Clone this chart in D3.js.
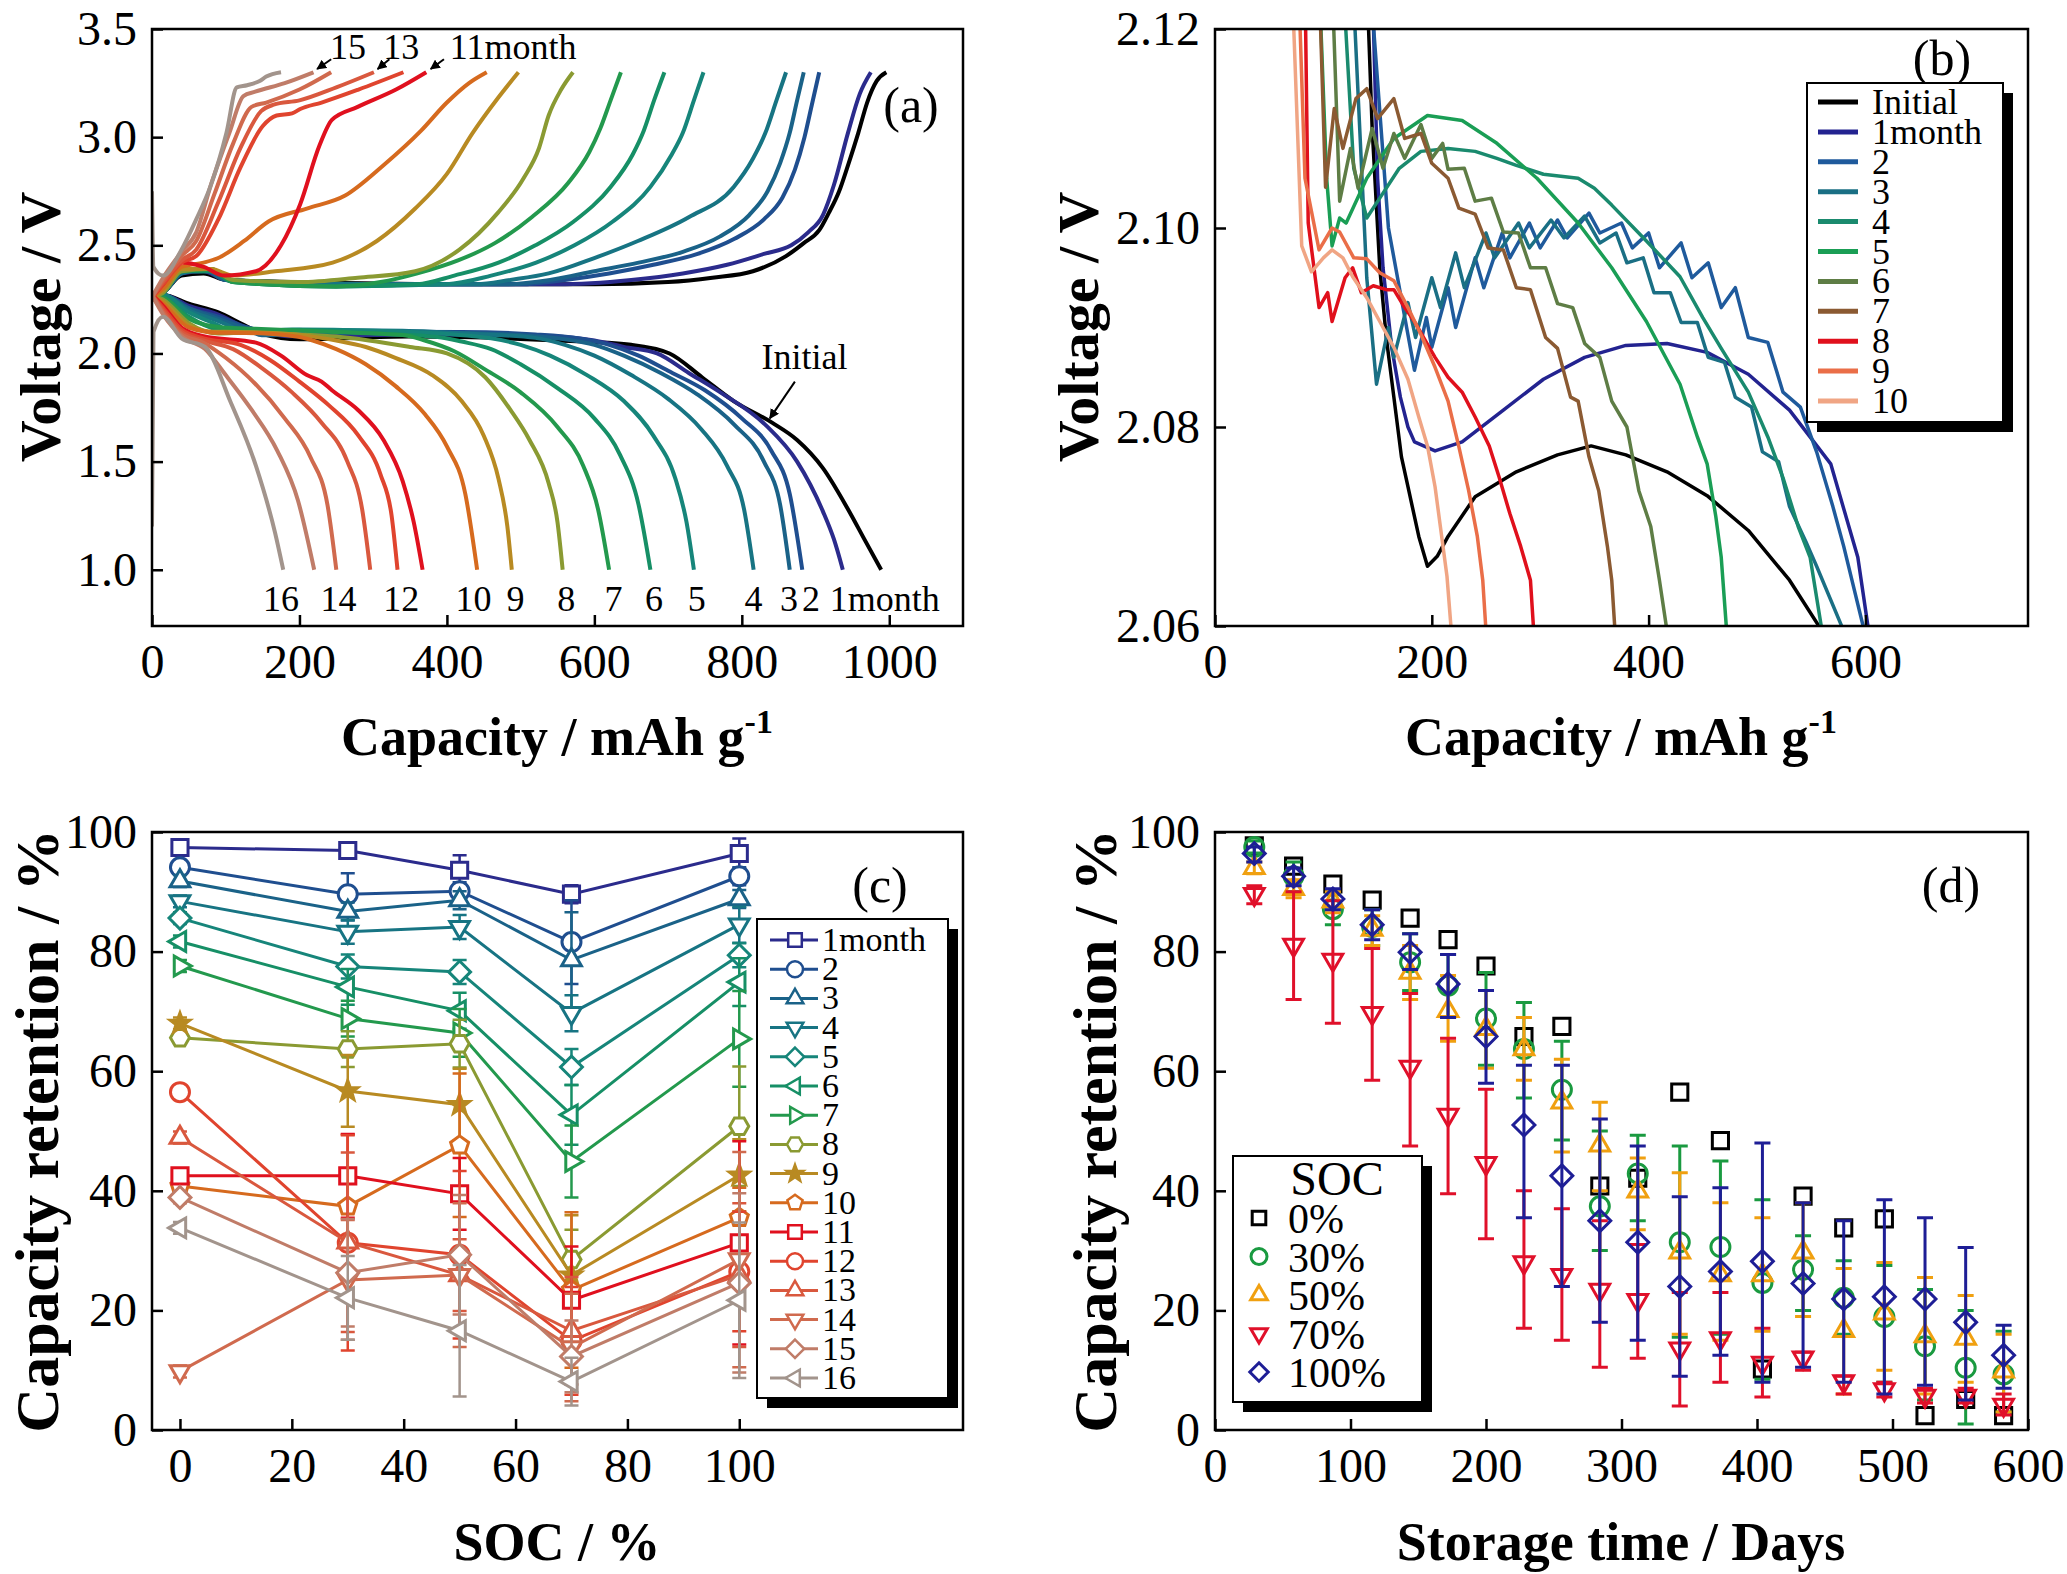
<!DOCTYPE html>
<html>
<head>
<meta charset="utf-8">
<script src="https://cdn.jsdelivr.net/npm/d3@7"></script>
<style>
  body { margin: 0; background: #fff; }
  text { font-family: "Liberation Serif", "Times New Roman", serif; }
</style>
</head>
<body>
<svg id="fig" width="2067" height="1574"></svg>
<script>
// ---------- panel (a): charge / discharge curves, [capacity, voltage] ----------
var monthsA = ["Initial","1month","2","3","4","5","6","7","8","9","10","11","12","13","14","15","16"];
var colorsA = ["#000000","#2b2b8c","#1f4e8f","#1a6288","#177483","#16857a","#168f66","#23994d",
               "#8a9a32","#b88a22","#d66a1e","#e0101e","#e0442e","#d9583e","#d06a4e","#c07c68","#a2948c"];

var chargeA = [
  [[0,2.26],[15,2.28],[40,2.36],[70,2.37],[100,2.34],[200,2.33],[400,2.32],[600,2.32],[700,2.33],[760,2.35],[815,2.38],[860,2.45],[884,2.51],[905,2.57],[918,2.65],[932,2.75],[944,2.87],[958,3.02],[970,3.16],[983,3.26],[996,3.30]],
  [[0,2.26],[15,2.28],[40,2.37],[70,2.38],[100,2.34],[300,2.32],[550,2.32],[650,2.34],[720,2.37],[780,2.41],[830,2.46],[867,2.50],[890,2.56],[910,2.64],[925,2.78],[944,3.02],[960,3.20],[975,3.30]],
  [[0,2.26],[15,2.28],[40,2.37],[70,2.39],[100,2.34],[300,2.32],[500,2.32],[560,2.34],[620,2.37],[680,2.41],[740,2.46],[790,2.53],[830,2.62],[855,2.72],[872,2.85],[885,3.00],[895,3.15],[905,3.30]],
  [[0,2.26],[15,2.28],[40,2.37],[70,2.39],[100,2.34],[300,2.32],[480,2.32],[540,2.34],[600,2.38],[660,2.42],[720,2.47],[770,2.54],[810,2.64],[835,2.75],[852,2.88],[865,3.02],[875,3.17],[884,3.30]],
  [[0,2.26],[15,2.28],[40,2.37],[80,2.39],[110,2.34],[300,2.32],[440,2.32],[486,2.34],[538,2.37],[599,2.44],[659,2.52],[728,2.63],[789,2.77],[815,2.90],[832,3.02],[847,3.17],[860,3.30]],
  [[0,2.26],[15,2.28],[40,2.38],[80,2.38],[110,2.33],[250,2.31],[400,2.32],[460,2.36],[521,2.42],[573,2.50],[625,2.61],[676,2.77],[705,2.92],[720,3.02],[735,3.17],[748,3.30]],
  [[0,2.26],[15,2.28],[40,2.38],[80,2.38],[110,2.33],[250,2.31],[360,2.32],[410,2.36],[470,2.42],[520,2.50],[572,2.61],[622,2.77],[652,2.92],[667,3.03],[681,3.17],[695,3.30]],
  [[0,2.26],[15,2.28],[40,2.38],[80,2.39],[110,2.33],[250,2.31],[310,2.33],[360,2.37],[415,2.43],[465,2.51],[515,2.63],[565,2.79],[593,2.93],[608,3.04],[622,3.17],[636,3.30]],
  [[0,2.26],[15,2.28],[40,2.38],[80,2.39],[110,2.34],[200,2.33],[279,2.35],[357,2.38],[417,2.48],[469,2.65],[504,2.81],[525,2.95],[538,3.10],[555,3.22],[571,3.30]],
  [[0,2.26],[15,2.29],[40,2.39],[80,2.39],[110,2.36],[167,2.38],[245,2.42],[305,2.52],[357,2.67],[400,2.83],[435,3.02],[469,3.18],[497,3.30]],
  [[0,2.26],[15,2.30],[40,2.40],[70,2.42],[89,2.44],[125,2.52],[158,2.61],[210,2.67],[262,2.73],[314,2.87],[365,3.03],[400,3.16],[430,3.25],[454,3.30]],
  [[0,2.26],[15,2.32],[40,2.42],[70,2.40],[98,2.36],[141,2.38],[175,2.50],[201,2.69],[227,2.96],[244,3.08],[279,3.14],[331,3.22],[372,3.30]],
  [[0,2.26],[15,2.32],[40,2.42],[60,2.45],[90,2.62],[120,2.86],[150,3.05],[169,3.10],[190,3.11],[201,3.13],[230,3.16],[280,3.22],[341,3.30]],
  [[0,2.26],[15,2.33],[40,2.43],[60,2.48],[90,2.70],[120,2.95],[148,3.12],[165,3.15],[200,3.17],[250,3.23],[301,3.30]],
  [[0,2.26],[15,2.34],[40,2.45],[60,2.52],[85,2.74],[110,2.97],[135,3.14],[155,3.16],[200,3.22],[243,3.30]],
  [[0,2.26],[15,2.35],[40,2.47],[60,2.56],[80,2.78],[105,3.02],[124,3.19],[140,3.21],[180,3.25],[219,3.30]],
  [[0,2.75],[2,2.40],[15,2.36],[40,2.48],[60,2.62],[79,2.77],[101,3.02],[115,3.23],[129,3.24],[146,3.26],[155,3.28],[175,3.30]]
];

var dischargeA = [
  [[0,2.27],[15,2.27],[50,2.23],[90,2.19],[120,2.14],[150,2.09],[200,2.066],[350,2.078],[550,2.06],[650,2.04],[702,2.00],[746,1.89],[789,1.78],[841,1.68],[875,1.60],[910,1.47],[944,1.28],[968,1.13],[989,1.00]],
  [[0,2.27],[15,2.27],[50,2.22],[90,2.18],[120,2.13],[155,2.096],[184,2.079],[300,2.085],[400,2.088],[540,2.08],[600,2.06],[640,2.03],[685,2.00],[728,1.91],[771,1.82],[832,1.67],[875,1.50],[910,1.27],[925,1.14],[937,1.00]],
  [[0,2.27],[15,2.27],[50,2.21],[90,2.17],[130,2.12],[184,2.086],[300,2.10],[420,2.099],[520,2.088],[580,2.069],[620,2.04],[660,1.99],[700,1.92],[750,1.83],[800,1.70],[840,1.55],[865,1.35],[882,1.00]],
  [[0,2.27],[15,2.27],[50,2.21],[90,2.16],[130,2.11],[149,2.084],[300,2.10],[400,2.096],[500,2.085],[560,2.066],[600,2.04],[640,1.99],[690,1.91],[740,1.81],[790,1.67],[830,1.50],[852,1.30],[865,1.00]],
  [[0,2.27],[15,2.27],[50,2.20],[90,2.15],[120,2.11],[133,2.104],[240,2.108],[340,2.105],[440,2.09],[520,2.072],[560,2.04],[600,1.99],[650,1.90],[700,1.79],[745,1.65],[780,1.48],[803,1.28],[816,1.00]],
  [[0,2.27],[15,2.27],[50,2.19],[90,2.13],[108,2.098],[200,2.111],[300,2.105],[400,2.09],[460,2.07],[500,2.04],[540,1.99],[590,1.90],[640,1.78],[680,1.62],[710,1.42],[725,1.22],[735,1.00]],
  [[0,2.27],[15,2.26],[50,2.17],[90,2.11],[115,2.103],[190,2.110],[300,2.093],[390,2.075],[420,2.055],[460,2.02],[500,1.95],[550,1.84],[600,1.70],[635,1.53],[660,1.30],[676,1.00]],
  [[0,2.27],[15,2.26],[50,2.16],[96,2.12],[140,2.114],[240,2.10],[340,2.085],[370,2.06],[410,2.01],[450,1.93],[500,1.82],[550,1.66],[585,1.48],[605,1.28],[620,1.00]],
  [[0,2.27],[15,2.25],[50,2.14],[90,2.092],[130,2.096],[200,2.088],[250,2.078],[294,2.06],[350,2.03],[400,2.00],[452,1.89],[486,1.74],[512,1.60],[538,1.40],[550,1.22],[557,1.00]],
  [[0,2.27],[15,2.24],[50,2.13],[83,2.10],[115,2.0996],[190,2.089],[250,2.06],[290,2.03],[330,1.98],[380,1.90],[420,1.78],[450,1.62],[470,1.42],[482,1.20],[488,1.00]],
  [[0,2.27],[15,2.23],[50,2.12],[89,2.096],[127,2.095],[196,2.078],[218,2.06],[250,2.02],[290,1.95],[330,1.85],[370,1.72],[400,1.57],[425,1.35],[441,1.00]],
  [[0,2.27],[15,2.22],[40,2.12],[70,2.08],[141,2.05],[175,1.99],[210,1.90],[230,1.87],[244,1.83],[279,1.74],[314,1.60],[340,1.41],[355,1.22],[367,1.00]],
  [[0,2.27],[15,2.21],[40,2.11],[70,2.07],[120,2.04],[160,1.97],[200,1.87],[240,1.76],[280,1.62],[310,1.44],[325,1.25],[333,1.00]],
  [[0,2.27],[15,2.20],[40,2.10],[70,2.06],[110,2.02],[150,1.93],[190,1.82],[230,1.68],[265,1.50],[285,1.28],[296,1.00]],
  [[0,2.27],[15,2.19],[40,2.09],[70,2.05],[100,1.98],[140,1.86],[180,1.70],[215,1.52],[238,1.30],[250,1.00]],
  [[0,2.27],[15,2.18],[40,2.08],[72,2.02],[100,1.90],[135,1.74],[170,1.55],[198,1.32],[220,1.00]],
  [[0,1.20],[2,2.10],[15,2.17],[40,2.07],[72,2.03],[106,1.78],[141,1.48],[167,1.17],[178,1.00]]
];

// month labels under the discharge ends and over the charge ends: [text, capacity, voltage]
var bottomLabelsA = [["16",175],["14",253],["12",338],["10",436],["9",493],["8",562],["7",626],["6",681],["5",739],["4",816],["3",864],["2",894],["1month",994]];
var bottomLabelV = 0.81;
var topLabelsA = [["15",266,3.36],["13",338,3.36]];
var topArrowsA = [[[243,3.36],[224,3.315]],[[322,3.36],[306,3.315]],[[396,3.36],[378,3.315]]];

// ---------- panel (b): zoom on discharge plateau ----------
var namesB = ["Initial","1month","2","3","4","5","6","7","8","9","10"];
var colorsB = ["#000000","#232390","#1f5a9c","#1a6f84","#1a8a6e","#1a9e55","#5e7d45","#8b5a32","#e0101c","#ea6e48","#f0a584"];
var curvesB = [
  [[140,2.125],[145,2.11],[152,2.096],[158,2.089],[165,2.083],[172,2.077],[178,2.074],[188,2.069],[196,2.066],[205,2.067],[215,2.069],[240,2.073],[278,2.0755],[316,2.0772],[347,2.0781],[379,2.0772],[417,2.0755],[454,2.0731],[492,2.0696],[530,2.0646],[560,2.0595]],
  [[145,2.125],[150,2.105],[155,2.096],[163,2.088],[171,2.083],[178,2.080],[184,2.0785],[203,2.0776],[228,2.0785],[266,2.0817],[303,2.0848],[341,2.087],[379,2.0882],[417,2.0884],[454,2.0875],[492,2.0853],[530,2.0817],[568,2.0763],[593,2.0669],[603,2.0595]],
  [[143,2.125],[160,2.10],[184,2.0857],[195,2.091],[200,2.088],[215,2.094],[222,2.090],[240,2.097],[248,2.094],[265,2.0995],[272,2.097],[290,2.1005],[300,2.098],[316,2.1008],[325,2.099],[345,2.1015],[355,2.0995],[375,2.1005],[385,2.098],[400,2.0995],[410,2.096],[430,2.0985],[440,2.095],[455,2.0965],[467,2.092],[480,2.094],[492,2.089],[510,2.0885],[524,2.0835],[540,2.082],[555,2.0775],[570,2.072],[580,2.068],[599,2.0595]],
  [[127,2.125],[140,2.095],[149,2.0843],[160,2.09],[165,2.087],[178,2.0925],[185,2.089],[200,2.095],[208,2.092],[222,2.0975],[230,2.094],[250,2.0995],[258,2.097],[280,2.1005],[290,2.098],[310,2.1008],[322,2.099],[341,2.1012],[355,2.0985],[370,2.0995],[380,2.0965],[395,2.097],[405,2.0935],[420,2.0935],[430,2.0905],[445,2.0905],[455,2.087],[470,2.0865],[480,2.083],[495,2.082],[505,2.0775],[520,2.0765],[530,2.072],[545,2.0685],[555,2.066],[580,2.0595]],
  [[118,2.125],[128,2.106],[140,2.101],[152,2.103],[170,2.106],[190,2.1077],[215,2.108],[240,2.1077],[260,2.107],[278,2.1063],[303,2.1054],[335,2.105],[350,2.104],[366,2.1023],[398,2.0987],[429,2.0951],[450,2.091],[467,2.0879],[492,2.0835],[510,2.079],[524,2.0749],[538,2.070],[549,2.0669],[560,2.0595]],
  [[96,2.125],[103,2.105],[108,2.0982],[115,2.101],[121,2.1005],[140,2.105],[165,2.109],[196,2.1113],[228,2.1108],[259,2.1086],[297,2.105],[335,2.1005],[366,2.096],[398,2.0906],[429,2.0843],[445,2.079],[454,2.0763],[462,2.071],[467,2.0669],[472,2.0595]],
  [[108,2.125],[115,2.1027],[125,2.108],[132,2.104],[145,2.11],[155,2.106],[165,2.1095],[175,2.107],[190,2.1104],[200,2.107],[210,2.1085],[215,2.1059],[230,2.106],[240,2.1027],[255,2.103],[266,2.0996],[280,2.0995],[291,2.096],[305,2.096],[316,2.0924],[330,2.092],[341,2.0884],[355,2.087],[366,2.0826],[380,2.080],[391,2.0736],[402,2.070],[410,2.0646],[417,2.0595]],
  [[96,2.125],[102,2.1041],[110,2.112],[118,2.108],[130,2.113],[140,2.114],[150,2.111],[165,2.113],[175,2.109],[190,2.1095],[200,2.1065],[215,2.105],[225,2.102],[240,2.1014],[252,2.098],[266,2.0978],[278,2.094],[291,2.0938],[305,2.089],[316,2.0879],[328,2.083],[335,2.0826],[345,2.077],[354,2.0736],[362,2.068],[366,2.0646],[369,2.0595]],
  [[83,2.125],[86,2.1005],[96,2.092],[104,2.0935],[108,2.0906],[120,2.095],[127,2.096],[135,2.0935],[146,2.0942],[158,2.0938],[165,2.0938],[175,2.092],[184,2.0906],[195,2.0885],[203,2.087],[215,2.085],[228,2.0835],[240,2.081],[253,2.0781],[262,2.075],[272,2.0713],[282,2.068],[291,2.0646],[294,2.0595]],
  [[77,2.125],[83,2.105],[96,2.0978],[108,2.100],[115,2.0996],[128,2.097],[140,2.0969],[152,2.0955],[165,2.0947],[178,2.092],[190,2.0893],[203,2.086],[215,2.0826],[225,2.078],[234,2.0736],[242,2.069],[247,2.0646],[250,2.0595]],
  [[71,2.125],[80,2.0982],[89,2.0956],[100,2.097],[108,2.0978],[118,2.097],[127,2.0951],[140,2.093],[152,2.0906],[165,2.088],[178,2.0848],[188,2.081],[196,2.0781],[203,2.074],[209,2.0691],[214,2.065],[218,2.0595]]
];

// ---------- panel (c): retention vs SOC ----------
var socC = [0, 30, 50, 70, 100];
var namesC = ["1month","2","3","4","5","6","7","8","9","10","11","12","13","14","15","16"];
var colorsC = colorsA.slice(1);
var shapesC = ["square","circle","triUp","triDown","diamond","triLeft","triRight","hexagon","star","pentagon","square","circle","triUp","triDown","diamond","triLeft"];
var retC = [
  [97.4, 96.9, 93.6, 89.6, 96.4],
  [94.1, 89.6, 90.1, 81.6, 92.6],
  [91.8, 86.7, 88.6, 78.6, 88.8],
  [88.4, 83.3, 84.1, 69.7, 84.5],
  [85.6, 77.5, 76.6, 60.7, 79.4],
  [81.7, 74.1, 70.1, 52.7, 74.9],
  [77.6, 68.8, 66.4, 44.9, 65.4],
  [65.6, 63.7, 64.6, 28.5, 50.8],
  [68.0, 56.7, 54.4, 25.9, 42.6],
  [40.8, 37.4, 47.6, 23.4, 35.5],
  [42.5, 42.5, 39.5, 21.7, 31.3],
  [56.5, 31.3, 29.3, 14.9, 26.5],
  [48.9, 31.4, 25.9, 16.6, 25.9],
  [9.8, 25.1, 25.9, 13.8, 28.5],
  [38.9, 26.3, 29.3, 12.3, 24.6],
  [33.8, 22.1, 16.6, 8.1, 21.7]
];
var errC = [
  [0.5, 1, 2.5, 1.5, 2.5],
  [1, 3.5, 1.5, 7, 1.5],
  [1, 1.5, 1.5, 8, 1.5],
  [1, 2, 2, 3, 3],
  [1, 2, 2, 3, 2],
  [1, 3, 3, 5, 4],
  [1, 3, 4, 6, 8],
  [1, 3, 4, 5, 10],
  [1, 6, 6, 10, 6],
  [1, 12, 12, 13, 5],
  [1, 7, 6, 9, 17],
  [1, 18, 14, 9, 10],
  [1, 15, 6, 9, 12],
  [1, 10, 12, 9, 18],
  [1, 9, 10, 6, 15],
  [1, 7, 11, 4, 13]
];

// ---------- panel (d): retention vs storage time ----------
var days = [29, 58, 87, 116, 144, 172, 200, 228, 256, 284, 312, 343, 373, 404, 434, 464, 494, 524, 554, 582];
var socNames = ["0%","30%","50%","70%","100%"];
var socColors = ["#000000","#1a9a40","#f0a010","#e0102a","#1e1e96"];
var socShapes = ["square","circle","triUp","triDown","diamond"];
var soc0   = [97.7, 94.3, 91.3, 88.6, 85.6, 82.0, 77.6, 65.8, 67.5, 40.8, 42.1, 56.5, 48.4, 10.2, 39.1, 33.8, 35.3, 2.4, 5.1, 2.4];
var soc30  = [97.5, 92.6, 87.1, 84.1, 78.2, 74.3, 68.8, 63.7, 56.9, 37.4, 42.9, 31.4, 30.6, 24.6, 26.8, 22.1, 18.9, 14.0, 10.4, 9.3];
var soc30Hi = [98.5, 95, 89.5, 87, 83, 79.5, 76.5, 71.5, 65, 50, 49.3, 47.5, 45, 38.5, 32.5, 28.3, 27.5, 23.5, 20, 16.5];
var soc30Lo = [96.5, 90, 84.5, 81, 73.5, 69, 61, 55.5, 48.5, 30, 35, 15.5, 16, 8.5, 20, 16, 8, 5, 1, 3];
var soc50  = [94.0, 90.5, 88.4, 83.7, 76.5, 70.1, 67.1, 63.7, 54.8, 47.6, 39.9, 29.7, 25.9, 25.9, 29.7, 16.6, 19.5, 15.7, 15.3, 9.8];
var soc50Hi = [95, 92, 90, 86, 81, 76, 73.5, 69, 62, 54.8, 45.5, 43, 38, 35.5, 38, 27, 28, 25.5, 22.5, 16];
var soc50Lo = [93, 89, 86.5, 81, 72, 65, 60.5, 58.5, 46.5, 40, 33.5, 16, 15, 16.5, 19, 6, 10, 6, 8, 3];
var soc70  = [89.6, 81.1, 78.6, 69.7, 60.7, 52.7, 44.6, 28.0, 25.9, 23.4, 21.7, 13.6, 15.3, 11.2, 12.1, 8.1, 6.8, 5.7, 5.7, 4.2];
var soc70Hi = [91, 90, 88.5, 80.5, 73, 65.5, 57, 40, 37, 35, 31, 23, 23, 17, 13, 9, 8, 7, 7, 6];
var soc70Lo = [88, 72, 68, 58.5, 47.5, 39.5, 32, 17, 15, 10.5, 12, 4, 8, 5.5, 10, 6, 5.5, 4.5, 4.5, 2.5];
var soc100 = [96.4, 92.6, 88.8, 84.5, 79.9, 74.6, 65.8, 51.0, 42.5, 35.0, 31.4, 24.0, 26.5, 28.2, 24.5, 21.9, 22.3, 21.9, 18.0, 12.5];
var soc100Hi = [97.5, 94, 90.5, 87, 83, 79.5, 73.5, 61, 61, 52, 47.5, 39, 40.5, 48, 38, 35, 38.5, 35.5, 30.5, 17.5];
var soc100Lo = [95, 91, 87, 82, 77, 69, 58, 35.5, 24, 18, 15, 9, 12.5, 8, 10.5, 8, 6, 7.5, 5, 7];

// ---------------------------------------------------------------------------
var svg = d3.select("#fig");
svg.append("rect").attr("width", 2067).attr("height", 1574).attr("fill", "#fff");

var defs = svg.append("defs");
defs.append("marker").attr("id", "arrow").attr("viewBox", "0 0 10 10")
  .attr("refX", 9).attr("refY", 5).attr("markerWidth", 5).attr("markerHeight", 5)
  .attr("orient", "auto")
  .append("path").attr("d", "M0,0 L10,5 L0,10 Z").attr("fill", "#000");

function makePanel(box, xDom, yDom, id) {
  var g = svg.append("g");
  var x = d3.scaleLinear().domain(xDom).range([box.l, box.r]);
  var y = d3.scaleLinear().domain(yDom).range([box.b, box.t]);
  defs.append("clipPath").attr("id", id).append("rect")
    .attr("x", box.l).attr("y", box.t).attr("width", box.r - box.l).attr("height", box.b - box.t);
  return {g: g, x: x, y: y, box: box, id: id};
}

function drawAxes(p, xTicks, yTicks, xFmt, yFmt) {
  var xa = d3.axisBottom(p.x).tickValues(xTicks).tickFormat(xFmt)
    .tickSizeInner(-11).tickSizeOuter(0).tickPadding(18);
  var ya = d3.axisLeft(p.y).tickValues(yTicks).tickFormat(yFmt)
    .tickSizeInner(-11).tickSizeOuter(0).tickPadding(15);
  var gx = p.g.append("g").attr("transform", "translate(0," + p.box.b + ")").call(xa);
  var gy = p.g.append("g").attr("transform", "translate(" + p.box.l + ",0)").call(ya);
  [gx, gy].forEach(function(a) {
    a.select(".domain").remove();
    a.selectAll("line").attr("stroke", "#000").attr("stroke-width", 2.5);
    a.selectAll("text").style("font-size", "48px")
      .style("font-family", '"Liberation Serif", "Times New Roman", serif').attr("fill", "#000");
  });
  p.g.append("rect").attr("x", p.box.l).attr("y", p.box.t)
    .attr("width", p.box.r - p.box.l).attr("height", p.box.b - p.box.t)
    .attr("fill", "none").attr("stroke", "#000").attr("stroke-width", 2.5);
}

function xTitle(cx, y, main, sup) {
  var t = svg.append("text").attr("x", cx).attr("y", y).attr("text-anchor", "middle")
    .attr("font-size", 54).attr("font-weight", "bold").text(main);
  if (sup) t.append("tspan").attr("dy", -22).attr("font-size", 34).text(sup);
}

function yTitle(x, cy, label, size) {
  svg.append("text").attr("transform", "translate(" + x + "," + cy + ") rotate(-90)")
    .attr("text-anchor", "middle").attr("font-size", size).attr("font-weight", "bold").text(label);
}

function panelTag(x, y, label) {
  svg.append("text").attr("x", x).attr("y", y).attr("text-anchor", "middle")
    .attr("font-size", 50).text(label);
}

function shapePath(kind, r) {
  if (kind === "circle") return d3.symbol().type(d3.symbolCircle).size(Math.PI * r * r)();
  if (kind === "square") {
    var s = r * 0.85;
    return "M" + (-s) + "," + (-s) + "H" + s + "V" + s + "H" + (-s) + "Z";
  }
  if (kind === "star") {
    var sp = d3.range(10).map(function(k) {
      var a = (-90 + k * 36) * Math.PI / 180, rr = k % 2 ? r * 0.45 : r * 1.1;
      return [rr * Math.cos(a), rr * Math.sin(a)];
    });
    return "M" + sp.join("L") + "Z";
  }
  var spec = {triUp: [3, -90], triDown: [3, 90], triLeft: [3, 180], triRight: [3, 0],
              diamond: [4, -90], pentagon: [5, -90], hexagon: [6, 0]}[kind];
  var rad = kind.indexOf("tri") === 0 ? r * 1.2 : (kind === "diamond" ? r * 1.15 : r);
  var pts = d3.range(spec[0]).map(function(k) {
    var a = (spec[1] + k * 360 / spec[0]) * Math.PI / 180;
    return [rad * Math.cos(a), rad * Math.sin(a)];
  });
  return "M" + pts.join("L") + "Z";
}

function legendBox(l, t, r, b) {
  svg.append("rect").attr("x", l + 10).attr("y", t + 10).attr("width", r - l).attr("height", b - t).attr("fill", "#000");
  svg.append("rect").attr("x", l).attr("y", t).attr("width", r - l).attr("height", b - t)
    .attr("fill", "#fff").attr("stroke", "#000").attr("stroke-width", 2);
}

// ======================= (a) =======================
var pa = makePanel({l: 152, t: 29, r: 963, b: 626}, [0, 1100], [0.74, 3.5], "clipA");
var lineA = d3.line().x(function(d) { return pa.x(d[0]); }).y(function(d) { return pa.y(d[1]); })
  .curve(d3.curveMonotoneX);
var curvesA = pa.g.append("g").attr("clip-path", "url(#clipA)");
monthsA.forEach(function(m, i) {
  [chargeA[i], dischargeA[i]].forEach(function(pts) {
    curvesA.append("path").attr("d", lineA(pts)).attr("fill", "none")
      .attr("stroke", colorsA[i]).attr("stroke-width", 4).attr("stroke-linejoin", "round");
  });
});
drawAxes(pa, [0, 200, 400, 600, 800, 1000], [1.0, 1.5, 2.0, 2.5, 3.0, 3.5], d3.format("d"), d3.format(".1f"));

bottomLabelsA.forEach(function(d) {
  svg.append("text").attr("x", pa.x(d[1])).attr("y", pa.y(bottomLabelV)).attr("text-anchor", "middle")
    .attr("font-size", 36).text(d[0]);
});
topLabelsA.forEach(function(d) {
  svg.append("text").attr("x", pa.x(d[1])).attr("y", pa.y(d[2])).attr("text-anchor", "middle")
    .attr("font-size", 36).text(d[0]);
});
svg.append("text").attr("x", pa.x(404)).attr("y", pa.y(3.36)).attr("font-size", 36).text("11month");
topArrowsA.forEach(function(a) {
  svg.append("line").attr("x1", pa.x(a[0][0])).attr("y1", pa.y(a[0][1]))
    .attr("x2", pa.x(a[1][0])).attr("y2", pa.y(a[1][1]))
    .attr("stroke", "#000").attr("stroke-width", 2).attr("marker-end", "url(#arrow)");
});
svg.append("text").attr("x", pa.x(885)).attr("y", pa.y(1.93)).attr("text-anchor", "middle")
  .attr("font-size", 36).text("Initial");
svg.append("line").attr("x1", pa.x(872)).attr("y1", pa.y(1.87)).attr("x2", pa.x(838)).attr("y2", pa.y(1.70))
  .attr("stroke", "#000").attr("stroke-width", 2).attr("marker-end", "url(#arrow)");
panelTag(911, 122, "(a)");
xTitle(557, 755, "Capacity / mAh g", "-1");
yTitle(60, 327, "Voltage / V", 58);

// ======================= (b) =======================
var pb = makePanel({l: 1215, t: 29, r: 2028, b: 626}, [0, 750], [2.06, 2.12], "clipB");
var lineB = d3.line().x(function(d) { return pb.x(d[0]); }).y(function(d) { return pb.y(d[1]); });
var curvesBg = pb.g.append("g").attr("clip-path", "url(#clipB)");
curvesB.forEach(function(pts, i) {
  curvesBg.append("path").attr("d", lineB(pts)).attr("fill", "none")
    .attr("stroke", colorsB[i]).attr("stroke-width", 3.5).attr("stroke-linejoin", "round");
});
drawAxes(pb, [0, 200, 400, 600], [2.06, 2.08, 2.10, 2.12], d3.format("d"), d3.format(".2f"));
panelTag(1942, 75, "(b)");
legendBox(1807, 83, 2003, 422);
namesB.forEach(function(n, i) {
  var cy = 102 + i * 29.9;
  svg.append("line").attr("x1", 1818).attr("x2", 1858).attr("y1", cy).attr("y2", cy)
    .attr("stroke", colorsB[i]).attr("stroke-width", 5);
  svg.append("text").attr("x", 1872).attr("y", cy + 12).attr("font-size", 36).text(n);
});
xTitle(1621, 755, "Capacity / mAh g", "-1");
yTitle(1098, 327, "Voltage / V", 58);

// ======================= (c) =======================
var pc = makePanel({l: 152, t: 832, r: 963, b: 1430}, [-5, 140], [0, 100], "clipC");
var lineC = d3.line().x(function(d) { return pc.x(d[0]); }).y(function(d) { return pc.y(d[1]); });
namesC.forEach(function(n, i) {
  var g = pc.g.append("g");
  var pts = socC.map(function(s, j) { return [s, retC[i][j], errC[i][j]]; });
  g.append("path").attr("d", lineC(pts)).attr("fill", "none").attr("stroke", colorsC[i]).attr("stroke-width", 3);
  pts.forEach(function(p) {
    var px = pc.x(p[0]), y1 = pc.y(p[1] - p[2]), y2 = pc.y(p[1] + p[2]);
    g.append("path").attr("d", "M" + px + "," + y1 + "V" + y2 + "M" + (px - 7) + "," + y1 + "h14M" + (px - 7) + "," + y2 + "h14")
      .attr("stroke", colorsC[i]).attr("stroke-width", 2.5).attr("fill", "none");
  });
  pts.forEach(function(p) {
    g.append("path").attr("transform", "translate(" + pc.x(p[0]) + "," + pc.y(p[1]) + ")")
      .attr("d", shapePath(shapesC[i], 9.5))
      .attr("fill", shapesC[i] === "star" ? colorsC[i] : "#fff")
      .attr("stroke", colorsC[i]).attr("stroke-width", 3);
  });
});
drawAxes(pc, [0, 20, 40, 60, 80, 100], [0, 20, 40, 60, 80, 100], d3.format("d"), d3.format("d"));
panelTag(880, 902, "(c)");
legendBox(757, 919, 948, 1398);
namesC.forEach(function(n, i) {
  var cy = 940 + i * 29.2;
  svg.append("line").attr("x1", 770).attr("x2", 818).attr("y1", cy).attr("y2", cy)
    .attr("stroke", colorsC[i]).attr("stroke-width", 3);
  svg.append("path").attr("transform", "translate(795," + cy + ")").attr("d", shapePath(shapesC[i], 8))
    .attr("fill", shapesC[i] === "star" ? colorsC[i] : "#fff").attr("stroke", colorsC[i]).attr("stroke-width", 2.5);
  svg.append("text").attr("x", 822).attr("y", cy + 11).attr("font-size", 34).text(n);
});
xTitle(557, 1560, "SOC / %");
yTitle(58, 1131, "Capacity retention / %", 62);

// ======================= (d) =======================
var pd = makePanel({l: 1215, t: 832, r: 2028, b: 1430}, [0, 600], [0, 100], "clipD");
var seriesD = [[soc0, null, null], [soc30, soc30Hi, soc30Lo], [soc50, soc50Hi, soc50Lo],
               [soc70, soc70Hi, soc70Lo], [soc100, soc100Hi, soc100Lo]];
seriesD.forEach(function(s, i) {
  var g = pd.g.append("g");
  if (s[1]) {
    days.forEach(function(d, j) {
      var px = pd.x(d), yh = pd.y(s[1][j]), yl = pd.y(s[2][j]);
      g.append("path").attr("d", "M" + px + "," + yl + "V" + yh + "M" + (px - 8) + "," + yl + "h16M" + (px - 8) + "," + yh + "h16")
        .attr("stroke", socColors[i]).attr("stroke-width", 3).attr("fill", "none");
    });
  }
  days.forEach(function(d, j) {
    g.append("path").attr("transform", "translate(" + pd.x(d) + "," + pd.y(s[0][j]) + ")")
      .attr("d", shapePath(socShapes[i], 9.5)).attr("fill", "none")
      .attr("stroke", socColors[i]).attr("stroke-width", 3);
  });
});
drawAxes(pd, [0, 100, 200, 300, 400, 500, 600], [0, 20, 40, 60, 80, 100], d3.format("d"), d3.format("d"));
panelTag(1951, 902, "(d)");
legendBox(1233, 1156, 1422, 1402);
svg.append("text").attr("x", 1337).attr("y", 1195).attr("text-anchor", "middle").attr("font-size", 48).text("SOC");
socNames.forEach(function(n, i) {
  var cy = 1218 + i * 38.5;
  svg.append("path").attr("transform", "translate(1259," + cy + ")").attr("d", shapePath(socShapes[i], 8))
    .attr("fill", "none").attr("stroke", socColors[i]).attr("stroke-width", 3);
  svg.append("text").attr("x", 1288).attr("y", cy + 15).attr("font-size", 42).text(n);
});
xTitle(1621, 1560, "Storage time / Days");
yTitle(1116, 1131, "Capacity retention / %", 62);
</script>
</body>
</html>
